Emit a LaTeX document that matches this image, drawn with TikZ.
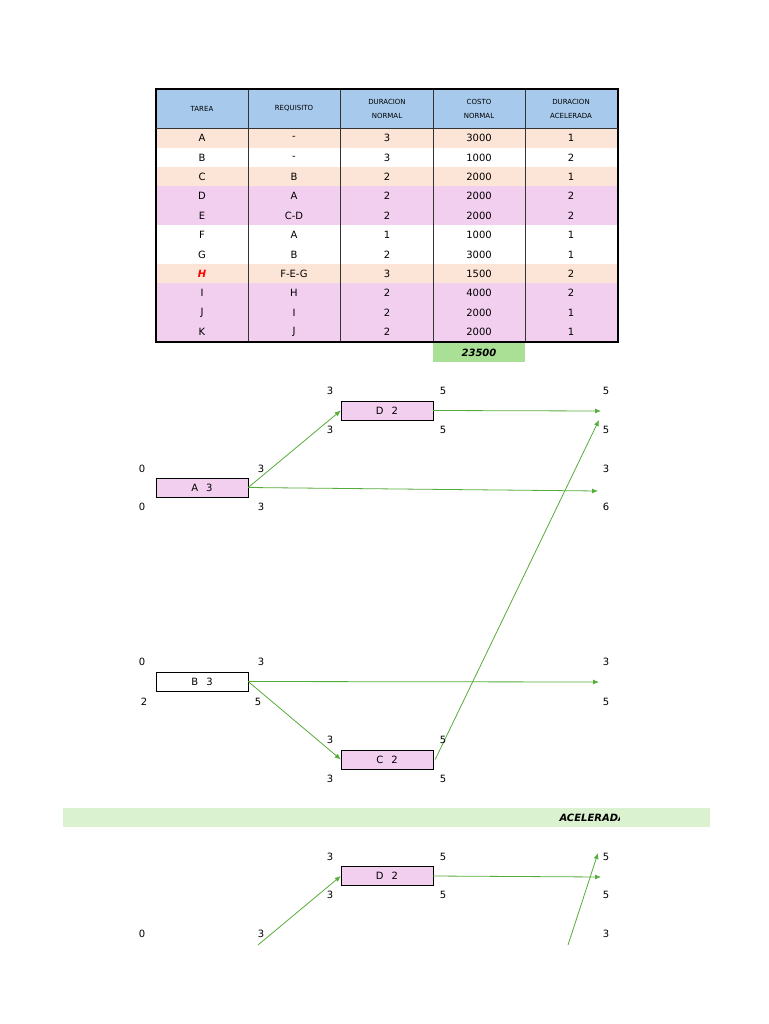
\documentclass[tikz,border=0pt]{standalone}
\usepackage{fontspec}
\setmainfont{DejaVu Sans}
\usetikzlibrary{arrows.meta}
\definecolor{hdr}{RGB}{166,201,236}
\definecolor{peach}{RGB}{252,228,214}
\definecolor{pink}{RGB}{242,206,239}
\definecolor{tot}{RGB}{169,224,150}
\definecolor{band}{RGB}{218,242,208}
\definecolor{arr}{RGB}{84,172,58}
\tikzset{
 task/.style={draw=black, fill=pink, minimum width=92pt, minimum height=19pt, inner sep=0pt, font=\fontsize{10}{12}\selectfont},
 num/.style={font=\fontsize{10}{12}\selectfont, inner sep=0pt},
 ar/.style={draw=arr, line width=0.8pt, -{Latex[length=6pt,width=5pt]}},
 cell/.style={font=\fontsize{10}{12}\selectfont}
}
\begin{document}
\begin{tikzpicture}[x=1pt,y=-1pt]
\useasboundingbox (0,0) rectangle (768,1024);
% table
\fill[hdr] (156,89) rectangle (618,128);
\def\ys{{128,148,167,186,206,225,245,264,283,303,322,342}}
\foreach \i/\c in {0/peach,1/white,2/peach,3/pink,4/pink,5/white,6/white,7/peach,8/pink,9/pink,10/pink}{
  \pgfmathsetmacro\ya{\ys[\i]}\pgfmathtruncatemacro\j{\i+1}\pgfmathsetmacro\yb{\ys[\j]}
  \fill[\c] (156,\ya) rectangle (618,\yb);
  \draw[black!80, line width=0.5pt] (156,\yb) -- (618,\yb);
}
\foreach \x in {248,340,433,525}{\draw[black!80,line width=0.5pt] (\x,89) -- (\x,342);}
\draw[black, line width=1.2pt] (156,89) rectangle (618,342);
\draw[black!80,line width=0.5pt] (156,128) -- (618,128);
\foreach \x/\t in {202/TAREA,294/REQUISITO,387/{DURACION\\NORMAL},479/{COSTO\\NORMAL},571/{DURACION\\ACELERADA}}
  \node[font=\fontsize{7}{14}\selectfont, align=center] (h\x) at (\x,108.5) {\t};
\foreach \i/\a/\b/\c/\d/\e in {0/A/-/3/3000/1,1/B/-/3/1000/2,2/C/B/2/2000/1,3/D/A/2/2000/2,4/E/C-D/2/2000/2,5/F/A/1/1000/1,6/G/B/2/3000/1,7/{\textcolor{red}{\textbf{\textit{H}}}}/F-E-G/3/1500/2,8/I/H/2/4000/2,9/J/I/2/2000/1,10/K/J/2/2000/1}{
  \pgfmathsetmacro\ya{\ys[\i]}\pgfmathtruncatemacro\j{\i+1}\pgfmathsetmacro\yb{\ys[\j]}
  \pgfmathsetmacro\ym{(\ya+\yb)/2}
  \node[cell] (ra\i) at (202,\ym) {\a};
  \node[cell] (rb\i) at (294,\ym) {\b};
  \node[cell] (rc\i) at (387,\ym) {\c};
  \node[cell] (rd\i) at (479,\ym) {\d};
  \node[cell] (re\i) at (571,\ym) {\e};
}
\fill[tot] (433,343) rectangle (525,362);
\node[font=\fontsize{10}{12}\selectfont\bfseries\itshape] (total) at (479,352.5) {23500};
% network top
\node[task] (D) at (387,410.5) {D\hspace{8pt}2};
\node[task] (A) at (202,487.5) {A\hspace{8pt}3};
\node[task, fill=white] (B) at (202,681.5) {B\hspace{8pt}3};
\node[task] (C) at (387,759.5) {C\hspace{8pt}2};
\coordinate (eD) at (601,411);
\coordinate (eA) at (598,491);
\coordinate (eB) at (599,682);
\coordinate (eC) at (599,420);
\draw[ar] (A.east) -- (D.west);
\draw[ar] (D.east) -- (eD);
\draw[ar] (A.east) -- (eA);
\draw[ar] (B.east) -- (eB);
\draw[ar] (B.east) -- (C.west);
\draw[ar] ([xshift=2pt]C.east) -- (eC);
\foreach \x/\y/\t [count=\k] in {330/391/3,443/391/5,606/391/5,330/430/3,443/430/5,606/430/5,
  142/469/0,261/469/3,606/469/3,142/507/0,261/507/3,606/507/6,
  142/662/0,261/662/3,606/662/3,144/702/2,258/702/5,606/702/5,
  330/740/3,443/740/5,330/779/3,443/779/5}
  \node[num] (n\k) at (\x,\y) {\t};
% band
\fill[band] (63,808) rectangle (710,827);
\begin{scope}
\clip (63,808) rectangle (619,827);
\node[font=\fontsize{10}{12}\selectfont\bfseries\itshape, anchor=west] (acel) at (556,817.5) {ACELERADA};
\end{scope}
% bottom
\node[task] (D2) at (387,876) {D\hspace{8pt}2};
\coordinate (s1) at (258,945);
\coordinate (s2) at (568,945);
\coordinate (e1) at (601,877);
\coordinate (e2) at (598,853);
\draw[ar] (s1) -- (D2.west);
\draw[ar] (D2.east) -- (e1);
\draw[ar] (s2) -- (e2);
\foreach \x/\y/\t [count=\k] in {330/857/3,443/857/5,606/857/5,330/895/3,443/895/5,606/895/5,142/934/0,261/934/3,606/934/3}
  \node[num] (m\k) at (\x,\y) {\t};
\end{tikzpicture}
\end{document}
